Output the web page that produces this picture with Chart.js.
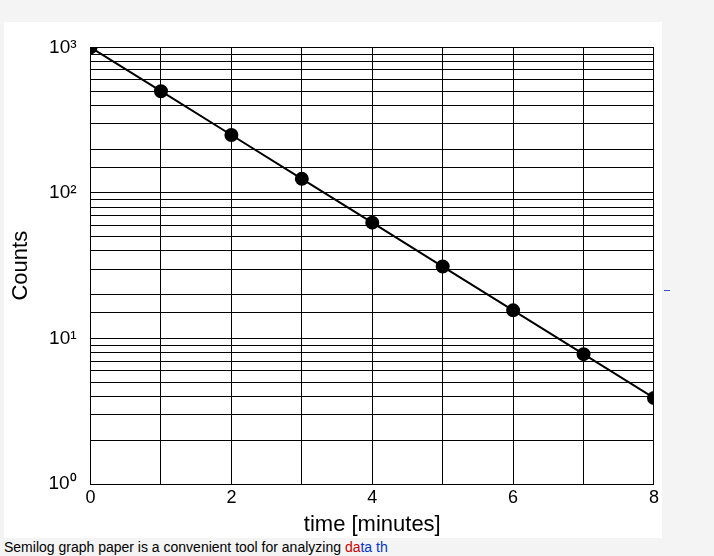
<!DOCTYPE html>
<html lang="en">
<head>
<meta charset="UTF-8">
<title>Semilog decay</title>
<script src="https://cdn.jsdelivr.net/npm/chart.js"></script>
<style>
    body { margin: 0; background: #f4f4f4; font-family: "Liberation Sans", Arial, sans-serif; overflow: hidden; }
    .wrap { position: absolute; left: 4px; top: 22px; width: 658px; height: 516px; background: #fff; }
    .caption { position: absolute; left: 4px; top: 539px; font-size: 14px; line-height: 16px; white-space: nowrap; color: #000; }
    .caption .r { color: #c00; }
    .caption .b { color: #0033cc; }
    .dash { position: absolute; left: 664px; top: 290px; width: 6px; height: 1px; background: #3355cc; }
</style>
</head>
<body>
<div class="wrap"><canvas id="decayChart" width="658" height="516"></canvas></div>
<div class="dash"></div>
<div class="caption">Semilog graph paper is a convenient tool for analyzing <span class="r">da</span><span class="b">ta th</span></div>
<script>
    const minutes = [0, 1, 2, 3, 4, 5, 6, 7, 8];
    const counts = [1000, 500, 250, 125, 62.5, 31.2, 15.6, 7.8, 3.9];
    const supers = { 0: '\u2070', 1: '\u00b9', 2: '\u00b2', 3: '\u00b3' };

    const ctx = document.getElementById('decayChart').getContext('2d');
    new Chart(ctx, {
        type: 'scatter',
        data: {
            datasets: [{
                data: minutes.map((m, i) => ({ x: m, y: counts[i] })),
                showLine: true,
                borderColor: '#000',
                backgroundColor: '#000',
                borderWidth: 2,
                pointRadius: 6,
                pointHoverRadius: 6
            }]
        },
        options: {
            responsive: false,
            animation: false,
            devicePixelRatio: 1,
            layout: { padding: { top: 6, right: 6, left: 4 } },
            plugins: { legend: { display: false }, tooltip: { enabled: false } },
            scales: {
                x: {
                    type: 'linear', min: 0, max: 8,
                    ticks: {
                        stepSize: 1, color: '#000', font: { size: 18, family: 'Liberation Sans' },
                        callback: v => (v % 2 === 0 ? String(v) : '')
                    },
                    grid: { color: '#000', lineWidth: 1, drawTicks: false },
                    border: { color: '#000' },
                    title: { display: true, text: 'time [minutes]', color: '#000', font: { size: 22, family: 'Liberation Sans' }, padding: 0 }
                },
                y: {
                    type: 'logarithmic', min: 1, max: 1000,
                    ticks: {
                        autoSkip: false, color: '#000', font: { size: 19, family: 'Liberation Sans' }, padding: 14,
                        callback: v => {
                            const e = Math.log10(v);
                            return Math.abs(e - Math.round(e)) < 1e-9 ? '10' + supers[Math.round(e)] : '';
                        }
                    },
                    grid: { color: '#000', lineWidth: 1, drawTicks: false },
                    border: { color: '#000' },
                    title: { display: true, text: 'Counts', color: '#000', font: { size: 22, family: 'Liberation Sans' }, padding: 0 }
                }
            }
        }
    });
</script>
</body>
</html>
